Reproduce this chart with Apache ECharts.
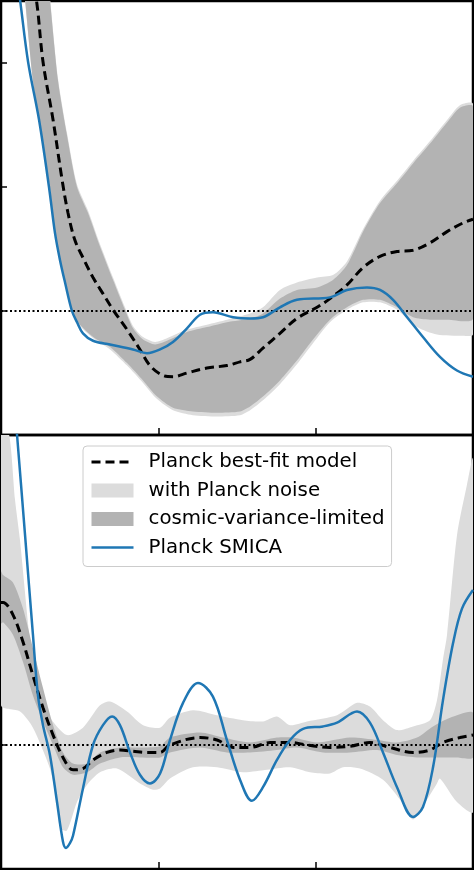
<!DOCTYPE html>
<html>
<head>
<meta charset="utf-8">
<script src="https://cdn.jsdelivr.net/npm/echarts@6/dist/echarts.min.js"></script>
<style>
  html, body { margin: 0; padding: 0; background: #fff; }
  #chart { width: 474px; height: 870px; }
</style>
</head>
<body>
<div id="chart"></div>
<script>
// legend labels
const names = ['Planck best-fit model', 'with Planck noise', 'cosmic-variance-limited', 'Planck SMICA']

// top panel, [x, y]
const topSmica = [[5.7,3.11],[12.1,2.51],[17.2,2.01],[24.2,1.54],[30.5,1.00],[34.3,0.63],[37.5,0.41],[40.7,0.23],[45.1,0.00],[48.3,-0.09],[52.1,-0.18],[58.5,-0.24],[69.3,-0.27],[83.9,-0.31],[92.8,-0.34],[101.1,-0.31],[109.3,-0.25],[118.2,-0.14],[126.5,-0.03],[134.7,-0.01],[147.5,-0.05],[158.3,-0.06],[166.5,-0.05],[177.3,0.03],[188.1,0.09],[209.1,0.11],[219.9,0.17],[232.6,0.19],[240.9,0.17],[249.2,0.09],[258.1,-0.05],[268.2,-0.21],[279.0,-0.37],[289.8,-0.48],[300,-0.53]]
const topBestFit = [[18.4,2.83],[22.9,2.47],[26.7,2.01],[33.1,1.54],[38.8,1.06],[42.6,0.79],[47.0,0.57],[52.1,0.43],[58.5,0.27],[64.8,0.14],[71.2,0.01],[80.1,-0.15],[88.3,-0.31],[94.7,-0.44],[103.0,-0.52],[109.3,-0.53],[118.2,-0.50],[130.9,-0.46],[143.6,-0.44],[151.9,-0.41],[158.3,-0.39],[166.5,-0.30],[177.3,-0.18],[188.1,-0.06],[200.9,0.03],[209.1,0.10],[219.9,0.21],[230.1,0.35],[240.9,0.44],[251.7,0.48],[261.9,0.49],[272.7,0.55],[283.5,0.64],[293.6,0.71],[300,0.74]]
const topCvHi = [[24.8,3.31],[31.1,2.51],[36.2,1.86],[41.9,1.42],[48.3,1.00],[55.3,0.79],[62.9,0.52],[71.2,0.25],[78.8,0.01],[83.9,-0.14],[90.3,-0.23],[97.9,-0.27],[105.5,-0.24],[118.2,-0.17],[130.9,-0.13],[143.6,-0.09],[158.3,-0.06],[166.5,-0.02],[177.3,0.10],[188.1,0.17],[200.9,0.19],[211.0,0.25],[219.9,0.37],[230.1,0.64],[240.9,0.87],[251.7,1.03],[261.9,1.19],[272.7,1.35],[283.5,1.52],[291.7,1.64],[300,1.65]]
const topCvLo = [[8.9,3.31],[15.3,2.51],[20.3,1.86],[26.1,1.38],[31.1,1.00],[34.3,0.61],[38.8,0.35],[45.1,0.00],[50.2,-0.11],[59.7,-0.22],[69.3,-0.29],[80.1,-0.42],[90.3,-0.56],[99.2,-0.69],[109.3,-0.78],[122.0,-0.81],[137.3,-0.82],[151.9,-0.81],[158.3,-0.77],[166.5,-0.69],[177.3,-0.56],[188.1,-0.40],[198.3,-0.23],[209.1,-0.07],[219.9,0.03],[230.1,0.09],[240.9,0.09],[251.7,0.03],[261.9,-0.05],[272.7,-0.07],[283.5,-0.07],[300,-0.06]]
const topNoiseHi = [[24.8,3.33],[31.1,2.53],[36.2,1.88],[41.9,1.44],[48.3,1.02],[55.3,0.81],[62.9,0.54],[71.2,0.27],[78.8,0.03],[83.9,-0.12],[90.3,-0.21],[97.9,-0.25],[105.5,-0.22],[118.2,-0.15],[130.9,-0.11],[143.6,-0.07],[158.3,-0.02],[166.5,0.03],[177.3,0.17],[188.1,0.23],[200.9,0.27],[211.0,0.29],[219.9,0.40],[230.1,0.66],[240.9,0.89],[251.7,1.05],[261.9,1.21],[272.7,1.37],[283.5,1.54],[291.7,1.66],[300,1.67]]
const topNoiseLo = [[8.9,3.31],[15.3,2.50],[20.3,1.85],[26.1,1.37],[31.1,0.99],[34.3,0.60],[38.8,0.34],[45.1,-0.01],[50.2,-0.12],[59.7,-0.23],[69.3,-0.31],[80.1,-0.44],[90.3,-0.58],[99.2,-0.71],[109.3,-0.80],[122.0,-0.84],[137.3,-0.85],[151.9,-0.84],[158.3,-0.80],[166.5,-0.72],[177.3,-0.59],[188.1,-0.43],[198.3,-0.26],[209.1,-0.09],[219.9,0.01],[230.1,0.07],[240.9,0.07],[251.7,0.01],[264.4,-0.13],[277.1,-0.19],[293.6,-0.20],[300,-0.19]]

// bottom panel, [x, y]
const botSmica = [[5.7,3.21],[10.2,2.50],[15.3,1.69],[20.3,0.89],[23.5,0.40],[26.7,0.16],[31.1,-0.08],[35.6,-0.46],[39.4,-0.78],[41.3,-0.83],[43.9,-0.79],[45.8,-0.73],[52.1,-0.35],[58.5,0.00],[64.8,0.16],[70.6,0.23],[75.6,0.16],[82.0,-0.06],[88.3,-0.24],[94.7,-0.31],[101.1,-0.23],[107.4,0.04],[115.7,0.34],[125.2,0.50],[134.7,0.39],[143.6,0.04],[151.9,-0.28],[159.5,-0.45],[166.5,-0.34],[175.4,-0.12],[183.7,0.04],[192.0,0.13],[204.7,0.15],[213.6,0.18],[226.3,0.27],[234.5,0.18],[242.8,-0.06],[251.7,-0.34],[261.9,-0.58],[268.2,-0.50],[274.6,-0.18],[280.9,0.36],[287.3,0.82],[293.0,1.10],[300,1.25]]
const botBestFit = [[0,1.15],[1.3,1.15],[7.6,1.05],[14.0,0.83],[20.3,0.56],[26.7,0.30],[33.1,0.08],[39.4,-0.10],[45.8,-0.20],[52.1,-0.19],[58.5,-0.12],[67.4,-0.06],[75.6,-0.04],[83.9,-0.05],[92.8,-0.06],[101.1,-0.06],[107.4,0.00],[126.5,0.06],[137.3,0.04],[147.5,-0.02],[158.3,-0.02],[171.0,0.02],[183.7,0.02],[194.5,0.00],[209.1,-0.02],[221.8,-0.01],[234.5,0.02],[247.3,-0.02],[261.9,-0.06],[272.7,-0.04],[280.9,0.02],[291.7,0.06],[300,0.08]]
const botCvHi = [[0,1.40],[1.3,1.37],[7.6,1.31],[14.0,1.10],[20.3,0.78],[26.7,0.46],[33.1,0.16],[39.4,-0.06],[45.8,-0.15],[54.7,-0.15],[62.9,-0.06],[75.6,-0.02],[88.3,-0.02],[101.1,-0.01],[107.4,0.06],[126.5,0.10],[141.1,0.06],[158.3,0.02],[175.4,0.06],[185.6,0.06],[200.9,0.02],[221.8,0.06],[239.0,0.04],[251.7,0.02],[264.4,0.06],[274.6,0.15],[285.4,0.22],[300,0.26]]
const botCvLo = [[0,0.98],[1.3,0.99],[7.6,0.89],[14.0,0.67],[20.3,0.40],[26.7,0.19],[33.1,0.00],[39.4,-0.18],[45.8,-0.24],[54.7,-0.22],[62.9,-0.15],[75.6,-0.10],[88.3,-0.10],[101.1,-0.10],[107.4,-0.06],[126.5,-0.02],[143.6,-0.06],[158.3,-0.06],[175.4,-0.04],[188.1,-0.02],[204.7,-0.06],[221.8,-0.06],[239.0,-0.04],[251.7,-0.08],[264.4,-0.10],[277.1,-0.10],[289.8,-0.10],[300,-0.10]]
const botNoiseHi = [[0,2.78],[5.7,2.46],[8.9,1.98],[12.1,1.65],[18.4,0.85],[24.8,0.36],[31.1,0.22],[41.9,0.08],[52.1,0.14],[62.9,0.32],[69.3,0.35],[80.1,0.27],[90.3,0.16],[101.1,0.14],[107.4,0.22],[122.0,0.28],[137.3,0.24],[153.8,0.20],[166.5,0.19],[175.4,0.23],[183.7,0.16],[194.5,0.19],[213.6,0.24],[226.3,0.34],[234.5,0.31],[242.8,0.20],[251.7,0.12],[261.9,0.15],[272.7,0.20],[277.1,0.36],[280.9,0.69],[283.5,0.89],[289.8,1.69],[296.2,2.10],[300,2.31]]
const botNoiseLo = [[0,0.32],[12.1,0.27],[20.3,0.14],[31.1,-0.19],[35.6,-0.46],[37.5,-0.67],[41.9,-0.69],[48.3,-0.46],[54.7,-0.32],[62.9,-0.22],[73.7,-0.19],[88.3,-0.31],[96.6,-0.36],[101.1,-0.35],[107.4,-0.27],[122.0,-0.18],[137.3,-0.18],[153.8,-0.22],[169.1,-0.20],[183.7,-0.18],[196.4,-0.22],[209.1,-0.23],[217.3,-0.18],[228.2,-0.19],[242.8,-0.28],[253.6,-0.44],[261.9,-0.60],[270.8,-0.44],[277.1,-0.31],[279.0,-0.27],[289.8,-0.46],[300,-0.54]]

const lightGray = '#dcdcdc'
const darkGray = '#b3b3b3'
const blue = '#1f77b4'

function band(name, hi, lo, color, idx, z) {
  const pts = hi.concat(lo.slice().reverse())
  return {
    name: name,
    type: 'custom',
    xAxisIndex: idx,
    yAxisIndex: idx,
    z: z,
    clip: true,
    silent: true,
    itemStyle: { color: color },
    data: pts,
    renderItem(params, api) {
      if (params.dataIndex !== 0) return
      const cs = params.coordSys
      return {
        type: 'polygon',
        shape: { points: pts.map(p => api.coord(p)), smooth: 0.25 },
        style: { fill: color },
        clipPath: { type: 'rect', shape: { x: cs.x, y: cs.y, width: cs.width, height: cs.height } },
      }
    },
  }
}

function curve(name, data, idx, dashed) {
  return {
    name: name,
    type: 'line',
    xAxisIndex: idx,
    yAxisIndex: idx,
    z: dashed ? 5 : 6,
    data: data,
    smooth: 0.35,
    symbol: 'none',
    silent: true,
    lineStyle: dashed
      ? { color: '#000', width: 3, type: [9, 5] }
      : { color: blue, width: 2.5 },
    itemStyle: { color: dashed ? '#000' : blue },
  }
}

function zeroLine(idx) {
  return {
    type: 'line',
    xAxisIndex: idx,
    yAxisIndex: idx,
    z: 4,
    data: [],
    markLine: {
      silent: true,
      symbol: 'none',
      label: { show: false },
      lineStyle: { color: '#000', width: 2, type: [2, 2.5] },
      data: [{ yAxis: 0 }],
    },
  }
}

function xAx(idx) {
  return {
    type: 'value', gridIndex: idx, min: 0, max: 300, interval: 100,
    axisLine: { show: false, onZero: false }, axisLabel: { show: false }, splitLine: { show: false },
    axisTick: { inside: true, length: 7, lineStyle: { color: '#000', width: 1.5 } },
  }
}
function yAx(idx) {
  return {
    type: 'value', gridIndex: idx, min: -1, max: 2.5, interval: 1,
    axisLine: { show: false, onZero: false }, axisLabel: { show: false }, splitLine: { show: false },
    axisTick: { inside: true, length: 6, lineStyle: { color: '#000', width: 1.5 } },
  }
}

const chart = echarts.init(document.getElementById('chart'), null, { renderer: 'canvas' })
const option = {
  animation: false,
  backgroundColor: '#fff',
  grid: [
    { left: 1, top: 1, width: 472, height: 434, show: true, borderColor: '#000', borderWidth: 2.5 },
    { left: 1, top: 435, width: 472, height: 434, show: true, borderColor: '#000', borderWidth: 2.5 },
  ],
  xAxis: [xAx(0), xAx(1)],
  yAxis: [yAx(0), yAx(1)],
  legend: {
    orient: 'vertical',
    left: 83,
    top: 446,
    padding: [6, 7, 9, 7],
    itemWidth: 42,
    itemHeight: 14,
    itemGap: 8.5,
    backgroundColor: 'rgba(255,255,255,0.8)',
    borderColor: '#cccccc',
    borderWidth: 1,
    borderRadius: 4,
    selectedMode: false,
    textStyle: { fontFamily: 'DejaVu Sans', fontSize: 19.8, lineHeight: 20, color: '#000', padding: [0, 0, 0, 10] },
    data: [
      { name: names[0], itemStyle: { opacity: 0 }, lineStyle: { color: '#000', width: 3, type: [9, 5] } },
      { name: names[1], icon: 'rect', itemStyle: { color: lightGray } },
      { name: names[2], icon: 'rect', itemStyle: { color: darkGray } },
      { name: names[3], itemStyle: { opacity: 0 }, lineStyle: { color: blue, width: 2.5 } },
    ],
  },
  series: [
    band(names[1], topNoiseHi, topNoiseLo, lightGray, 0, 1),
    band(names[2], topCvHi, topCvLo, darkGray, 0, 2),
    zeroLine(0),
    curve(names[0], topBestFit, 0, true),
    curve(names[3], topSmica, 0, false),
    band(names[1], botNoiseHi, botNoiseLo, lightGray, 1, 1),
    band(names[2], botCvHi, botCvLo, darkGray, 1, 2),
    zeroLine(1),
    curve(names[0], botBestFit, 1, true),
    curve(names[3], botSmica, 1, false),
  ],
}
chart.setOption(option)
</script>
</body>
</html>
